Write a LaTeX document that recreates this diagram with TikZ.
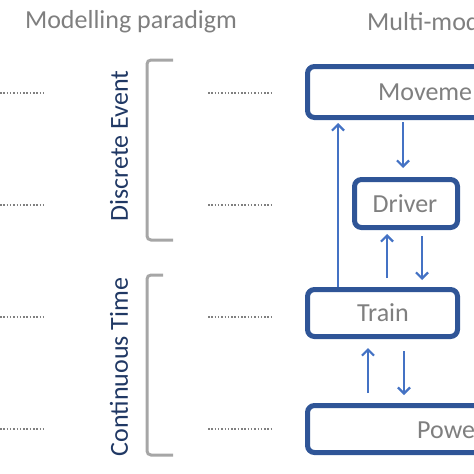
\documentclass[tikz,border=0pt]{standalone}
\usepackage{fontspec}
\setmainfont{Carlito}
\usetikzlibrary{arrows.meta}

\definecolor{boxblue}{HTML}{2F5597}
\definecolor{arrowblue}{HTML}{4472C4}
\definecolor{labelblue}{HTML}{203864}
\definecolor{textgrey}{HTML}{7F7F7F}
\definecolor{bracketgrey}{HTML}{A6A6A6}
\definecolor{dotgrey}{HTML}{808080}

\tikzset{
    box/.style={draw=boxblue, line width=5pt, rounded corners=7pt, fill=white, inner sep=0pt},
    boxtext/.style={text=textgrey, inner sep=0pt, font=\fontsize{26}{30}\selectfont},
    heading/.style={text=textgrey, inner sep=0pt, font=\fontsize{26}{30}\selectfont},
    paradigm/.style={text=labelblue, inner sep=0pt, rotate=90, font=\fontsize{26}{30}\selectfont},
    bracket/.style={draw=bracketgrey, line width=3pt, rounded corners=4pt},
    guide/.style={draw=dotgrey, line width=1.5pt, dash pattern=on 1.5pt off 1.8pt},
    link/.style={draw=arrowblue, line width=2.2pt, -{Straight Barb[length=6pt, width=12pt]}}
}

\begin{document}
\begin{tikzpicture}[x=1pt, y=-1pt]
        \useasboundingbox (0,0) rectangle (474,474);
        \clip (0,0) rectangle (474,474);

        % Headings
        \node[heading] (hpar) at (131,22) {Modelling paradigm};
        \node[heading, anchor=west] (hmod) at (367,22) {Multi-mod};

        % Paradigm labels and brackets
        \node[paradigm] (disc) at (119,146) {Discrete Event};
        \node[paradigm] (cont) at (119,367) {Continuous Time};

        \draw[bracket] (173,60) -- (147,60) -- (147,240) -- (173,240);
        \draw[bracket] (163,275) -- (147,275) -- (147,455) -- (173,455);

        % Dotted guides
        \draw[guide] (0,93) -- (45,93);
        \draw[guide] (0,205) -- (45,205);
        \draw[guide] (0,317) -- (45,317);
        \draw[guide] (0,429) -- (45,429);

        \draw[guide] (208,93) -- (272,93);
        \draw[guide] (208,205) -- (272,205);
        \draw[guide] (208,317) -- (272,317);
        \draw[guide] (208,429) -- (272,429);

        % Model boxes
        \node[box, anchor=west, minimum width=260pt, minimum height=51pt] (move) at (305,92) {};
        \node[boxtext, anchor=west] (movelabel) at (378,92) {Moveme};

        \node[box, minimum width=103pt, minimum height=48pt] (driver) at (406,203.5) {};
        \node[boxtext] (driverlabel) at (405,204) {Driver};

        \node[box, minimum width=150pt, minimum height=47pt] (train) at (382.5,313) {};
        \node[boxtext] (trainlabel) at (383,313) {Train};

        \node[box, anchor=west, minimum width=260pt, minimum height=47pt] (power) at (305,429) {};
        \node[boxtext, anchor=west] (powerlabel) at (417,430) {Powe};

        % Couplings
        \draw[link, shorten >=3pt] ([xshift=-44.5pt]train.north) -- ([xshift=-44.5pt]train.north |- move.south);
        \draw[link, shorten <=2pt, shorten >=9pt] ([xshift=-3pt]driver.north |- move.south) -- ([xshift=-3pt]driver.north);

        \draw[link, shorten <=9pt, shorten >=4pt] ([xshift=4.5pt]train.north) -- ([xshift=4.5pt]train.north |- driver.south);
        \draw[link, shorten <=6pt, shorten >=7pt] ([xshift=16pt]driver.south) -- ([xshift=16pt]driver.south |- train.north);

        \draw[link, shorten <=10pt, shorten >=9pt] ([xshift=-14.5pt]train.south |- power.north) -- ([xshift=-14.5pt]train.south);
        \draw[link, shorten <=12pt, shorten >=8pt] ([xshift=21.5pt]train.south) -- ([xshift=21.5pt]train.south |- power.north);
\end{tikzpicture}
\end{document}
